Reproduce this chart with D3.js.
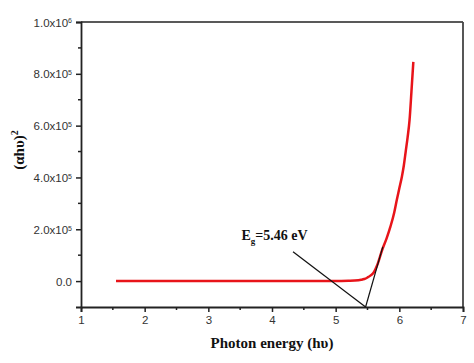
<!DOCTYPE html>
<html>
<head>
<meta charset="utf-8">
<script src="https://cdn.jsdelivr.net/npm/d3@7"></script>
<style>
  body { margin: 0; background: #fff; }
  svg { display: block; }
</style>
</head>
<body>
<div id="chart"></div>
<script>
// absorption curve (photon energy vs (alpha h nu)^2)
const energy = [1.55, 2.0, 2.5, 3.0, 3.5, 4.0, 4.5, 5.0, 5.2, 5.3, 5.4, 5.45, 5.5, 5.55, 5.6, 5.65, 5.73, 5.8, 5.86, 5.92, 5.96, 6.0, 6.04, 6.07, 6.1, 6.13, 6.16, 6.19, 6.22];
const absorb = [0, 0, 0, 0, 0, 0, 0, 0, 1000, 2000, 5000, 8000, 14000, 22000, 34000, 60000, 120000, 165000, 210000, 265000, 313000, 358000, 403000, 445000, 500000, 555000, 620000, 730000, 846000];

// tangent line and label pointer, [energy, value]
const tangentLine = [[5.47, -100000], [5.74, 132000]];
const pointerLine = [[4.33, 113000], [5.47, -100000]];

const xTicks = [1, 2, 3, 4, 5, 6, 7];
const yTicks = [0, 200000, 400000, 600000, 800000, 1000000];
const yTickLabels = [["0.0", ""], ["2.0x10", "5"], ["4.0x10", "5"], ["6.0x10", "5"], ["8.0x10", "5"], ["1.0x10", "6"]];

const W = 474, H = 363;
const margin = { top: 22, right: 11, bottom: 56, left: 81 };
const width = W - margin.left - margin.right,
      height = H - margin.top - margin.bottom;

const svg = d3.select("#chart").append("svg")
    .attr("width", W)
    .attr("height", H);

const g = svg.append("g")
    .attr("transform", `translate(${margin.left},${margin.top})`);

const x = d3.scaleLinear().domain([1, 7]).range([0, width]);
const y = d3.scaleLinear().domain([-100000, 1000000]).range([height, 0]);

const tickFont = "Liberation Sans, Arial, sans-serif";
const serif = "Liberation Serif, Times New Roman, serif";

// frame top + right
g.append("line").attr("x1", 0).attr("x2", width).attr("y1", 0).attr("y2", 0)
    .attr("stroke", "#222").attr("stroke-width", 1.5);
g.append("line").attr("x1", width).attr("x2", width).attr("y1", 0).attr("y2", height)
    .attr("stroke", "#444").attr("stroke-width", 1.8);

// x axis
const xAxis = g.append("g")
    .attr("transform", `translate(0,${height})`)
    .call(d3.axisBottom(x).tickValues(xTicks).tickSize(5).tickPadding(4).tickFormat(d3.format("d")));
xAxis.select(".domain").attr("stroke", "#222").attr("stroke-width", 1.8);
xAxis.selectAll(".tick line").attr("stroke", "#222").attr("stroke-width", 1.5);
xAxis.selectAll("text")
    .style("font-family", tickFont)
    .style("font-size", "11.5px")
    .style("fill", "#333");
g.append("g")
    .attr("transform", `translate(0,${height})`)
    .selectAll("line")
    .data(d3.range(1.5, 7, 1))
    .join("line")
    .attr("x1", d => x(d)).attr("x2", d => x(d))
    .attr("y1", 0).attr("y2", 3)
    .attr("stroke", "#222").attr("stroke-width", 1.5);

// y axis
const yAxis = g.append("g")
    .call(d3.axisLeft(y).tickValues(yTicks).tickSize(5).tickPadding(4).tickFormat(""));
yAxis.select(".domain").attr("stroke", "#222").attr("stroke-width", 1.8);
yAxis.selectAll(".tick line").attr("stroke", "#222").attr("stroke-width", 1.5);
yAxis.selectAll(".tick").each(function(d, i) {
    const t = d3.select(this).append("text")
        .attr("x", -9)
        .attr("dy", "0.35em")
        .attr("text-anchor", "end")
        .style("font-family", tickFont)
        .style("font-size", "11.5px")
        .style("fill", "#333");
    const lab = yTickLabels[i];
    if (lab[1]) {
        t.append("tspan").text(lab[0]);
        t.append("tspan").attr("dy", "-0.45em").style("font-size", "7px").text(lab[1]);
    } else {
        t.text(lab[0]);
    }
});
g.append("g")
    .selectAll("line")
    .data(d3.range(100000, 1000000, 200000))
    .join("line")
    .attr("x1", 0).attr("x2", -3)
    .attr("y1", d => y(d)).attr("y2", d => y(d))
    .attr("stroke", "#222").attr("stroke-width", 1.5);

// data curve
const line = d3.line()
    .x(d => x(d[0]))
    .y(d => y(d[1]))
    .curve(d3.curveMonotoneX);

g.append("path")
    .datum(energy.map((e, i) => [e, absorb[i]]))
    .attr("d", line)
    .attr("fill", "none")
    .attr("stroke", "#e8141a")
    .attr("stroke-width", 2.5);

// tangent and pointer lines
const straight = d3.line().x(d => x(d[0])).y(d => y(d[1]));
g.append("path").datum(tangentLine).attr("d", straight)
    .attr("stroke", "#111").attr("stroke-width", 1.2).attr("fill", "none");
g.append("path").datum(pointerLine).attr("d", straight)
    .attr("stroke", "#111").attr("stroke-width", 1.2).attr("fill", "none");

// band gap label
const eg = g.append("text")
    .attr("x", x(3.52))
    .attr("y", y(157000))
    .style("font-family", serif)
    .style("font-weight", "bold")
    .style("font-size", "14px")
    .style("fill", "#111");
eg.append("tspan").text("E");
eg.append("tspan").attr("dy", "4").style("font-size", "9px").text("g");
eg.append("tspan").attr("dy", "-4").text("=5.46 eV");

// axis titles
svg.append("text")
    .attr("x", margin.left + width / 2)
    .attr("y", 348)
    .attr("text-anchor", "middle")
    .style("font-family", serif)
    .style("font-weight", "bold")
    .style("font-size", "15px")
    .style("fill", "#111")
    .text("Photon energy (h\u03c5)");

const yt = svg.append("text")
    .attr("transform", "translate(24,150) rotate(-90)")
    .attr("text-anchor", "middle")
    .style("font-family", serif)
    .style("font-weight", "bold")
    .style("font-size", "15px")
    .style("fill", "#111");
yt.append("tspan").text("(\u03b1h\u03c5)");
yt.append("tspan").attr("dy", "-6").style("font-size", "10px").text("2");
</script>
</body>
</html>
